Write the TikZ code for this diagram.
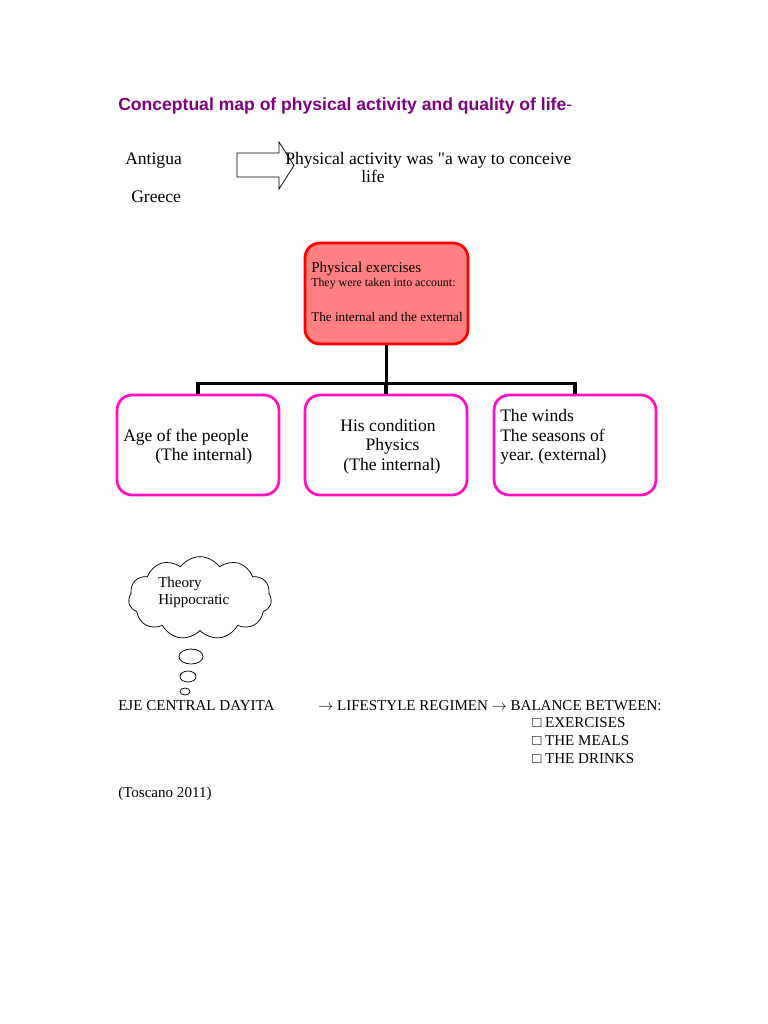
\documentclass[tikz,border=0pt]{standalone}
\usepackage{fontspec}
\setmainfont{Liberation Serif}
\newfontfamily\plainserif{Liberation Serif}
\newfontfamily\arialfont{Liberation Sans}
\usetikzlibrary{shapes.symbols}
\definecolor{titlepurple}{RGB}{128,0,128}
\definecolor{boxred}{RGB}{255,128,128}
\definecolor{boxpink}{RGB}{255,16,192}
\frenchspacing

\begin{document}
\begin{tikzpicture}[x=0.797pt,y=0.797pt]
	    \tikzstyle{every node}+=[inner sep=0pt]
	    \tikzstyle{big}=[anchor=base west, font=\fontsize{14}{16}\selectfont]
	    \tikzstyle{mid}=[anchor=base west, font=\fontsize{12}{14}\selectfont]
	    \tikzstyle{topbox}=[draw=red, fill=boxred, line width=2.2pt, rounded corners=12pt, minimum width=130pt, minimum height=80.5pt]
	    \tikzstyle{subbox}=[draw=boxpink, line width=2.2pt, rounded corners=12pt, minimum width=129pt, minimum height=79.7pt]
	    \tikzstyle{branch}=[black, line width=2.4pt]
	    \useasboundingbox (0,0) rectangle (768,-1024);
	    \node (title) [anchor=base west, text=titlepurple, font=\arialfont\fontsize{14}{16}\selectfont] at (118,-110) {\textbf{Conceptual map of physical activity and quality of life}-};
	    \node (antigua) [big] at (125,-164) {Antigua};
	    \node (greece) [big] at (131,-202) {Greece};
	    \draw [black, line width=0.6pt] (237,-153) -- (279,-153) -- (279,-142) -- (294,-165.5) -- (279,-189) -- (279,-177) -- (237,-177) -- cycle;
	    \node (way) [anchor=base west, font=\plainserif\fontsize{14}{16}\selectfont] at (285,-164) {Physical activity was "a way to conceive};
	    \node (life) [big] at (361,-182) {life};
	    % red box
	    \node (exer) [topbox] at (386.5,-293.5) {};
	    \node (pe) [anchor=base west, font=\fontsize{12}{14}\selectfont] at (311,-272) {Physical exercises};
	    \node (tw) [anchor=base west, font=\fontsize{9.5}{11}\selectfont] at (311,-286) {They were taken into account:};
	    \node (ie) [anchor=base west, font=\fontsize{10.5}{12}\selectfont] at (311,-321) {The internal and the external};
	    % three boxes
	    \node (age) [subbox] at (198,-445) {};
	    \node (cond) [subbox] at (386,-445) {};
	    \node (winds) [subbox] at (575,-445) {};
	    \coordinate (bus) at (386.5,-383);
	    \draw [branch, line width=3pt] (exer.south) -- (exer.south |- bus);
	    \draw [branch] (age.north) -- (age.north |- bus) -- (winds.north |- bus) -- (winds.north);
	    \draw [branch] (cond.north) -- (cond.north |- bus);
	    \node (age1) [big] at (123,-441) {Age of the people};
	    \node (age2) [big] at (155,-460) {(The internal)};
	    \node (cond1) [big, anchor=base] at (388,-431) {His condition};
	    \node (cond2) [big, anchor=base] at (392.5,-450) {Physics};
	    \node (cond3) [big, anchor=base] at (392,-470) {(The internal)};
	    \node (winds1) [big] at (500,-421) {The winds};
	    \node (winds2) [big] at (500,-441) {The seasons of};
	    \node (winds3) [big] at (500,-460) {year. (external)};
	    % thought cloud
	    \node (cloud) [cloud, draw, cloud puffs=11, cloud puff arc=110, aspect=1.8, minimum width=114pt, minimum height=66pt, line width=0.6pt] at (200,-598) {};
	    \node (theory) [mid] at (158,-587) {Theory};
	    \node (hippo) [mid] at (158,-604) {Hippocratic};
	    \draw [line width=0.6pt] (191,-656.5) ellipse (12 and 7.5);
	    \draw [line width=0.6pt] (188,-676.5) ellipse (8 and 5.5);
	    \draw [line width=0.6pt] (185,-691.5) ellipse (5 and 3.5);
	    % bottom lines
	    \node (eje) [mid] at (118,-710) {EJE CENTRAL DAYITA};
	    \node (regimen) [mid] at (318,-710) {$\rightarrow$ LIFESTYLE REGIMEN $\rightarrow$ BALANCE BETWEEN:};
	    \node (item1) [mid] at (532,-727) {□ EXERCISES};
	    \node (item2) [mid] at (532,-745) {□ THE MEALS};
	    \node (item3) [mid] at (532,-763) {□ THE DRINKS};
	    \node (tosc) [mid] at (118,-797) {(Toscano 2011)};
\end{tikzpicture}
\end{document}
